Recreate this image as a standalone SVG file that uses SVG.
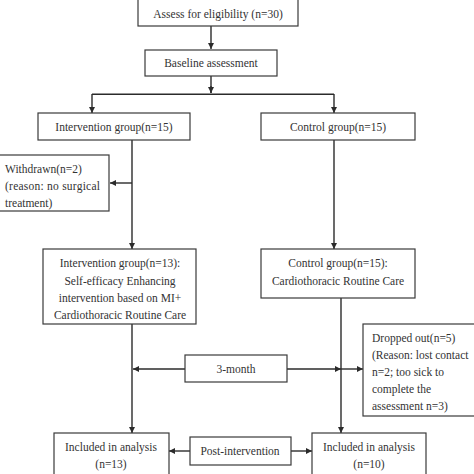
<svg xmlns="http://www.w3.org/2000/svg" width="474" height="474" viewBox="0 0 474 474">
<defs>
<marker id="ah" viewBox="0 0 10 10" refX="10" refY="5" markerWidth="6" markerHeight="6" markerUnits="userSpaceOnUse" orient="auto">
<path d="M0,0 L10,5 L0,10 z" fill="#2b2b2b"/>
</marker>
<style>
.box{fill:#fff;stroke:#3a3a3a;stroke-width:1.2}
text{font-family:"Liberation Serif","Times New Roman",serif;font-size:11.5px;fill:#333}
.c{text-anchor:middle}
.ln{fill:none;stroke:#2b2b2b;stroke-width:1.4}
</style>
</defs>
<rect width="474" height="474" fill="#fff"/>
<g id="connectors">
<path class="ln" d="M211,26 V49" marker-end="url(#ah)"/>
<path class="ln" d="M211,76 V93"/>
<path class="ln" d="M211,86 V93" marker-end="url(#ah)"/>
<path class="ln" d="M92,94.3 H334"/>
<path class="ln" d="M92,94 V113" marker-end="url(#ah)"/>
<path class="ln" d="M334,94 V113" marker-end="url(#ah)"/>
<path class="ln" d="M132,140 V249" marker-end="url(#ah)"/>
<path class="ln" d="M132,183 H110" marker-end="url(#ah)"/>
<path class="ln" d="M334,140 V249" marker-end="url(#ah)"/>
<path class="ln" d="M132,324 V433" marker-end="url(#ah)"/>
<path class="ln" d="M341,298 V433" marker-end="url(#ah)"/>
<path class="ln" d="M185,369 H133" marker-end="url(#ah)"/>
<path class="ln" d="M287,369 H341" marker-end="url(#ah)"/>
<path class="ln" d="M341,369 H363" marker-end="url(#ah)"/>
<path class="ln" d="M190,451 H169" marker-end="url(#ah)"/>
<path class="ln" d="M291,451 H312" marker-end="url(#ah)"/>
</g>
<g id="assess"><rect class="box" x="138" y="-2" width="160" height="28"/><text class="c" x="218" y="18">Assess for eligibility (n=30)</text></g>
<g id="baseline"><rect class="box" x="145" y="50" width="132" height="26"/><text class="c" x="211" y="67">Baseline assessment</text></g>
<g id="intervention15"><rect class="box" x="38" y="113" width="152" height="27"/><text class="c" x="114" y="131">Intervention group(n=15)</text></g>
<g id="control15"><rect class="box" x="261" y="113" width="154" height="27"/><text class="c" x="338" y="131">Control group(n=15)</text></g>
<g id="withdrawn"><rect class="box" x="-2" y="155" width="111" height="56"/>
<text x="5" y="173">Withdrawn(n=2)</text>
<text x="5" y="190" textLength="95" lengthAdjust="spacing">(reason: no surgical</text>
<text x="5" y="207">treatment)</text></g>
<g id="intervention13"><rect class="box" x="43" y="249" width="153" height="75"/>
<text class="c" x="120" y="267">Intervention group(n=13):</text>
<text class="c" x="120" y="285">Self-efficacy Enhancing</text>
<text class="c" x="120" y="302">intervention based on MI+</text>
<text class="c" x="120" y="319">Cardiothoracic Routine Care</text></g>
<g id="controlcare"><rect class="box" x="261" y="249" width="154" height="49"/>
<text class="c" x="338" y="267">Control group(n=15):</text>
<text class="c" x="338" y="285">Cardiothoracic Routine Care</text></g>
<g id="threemonth"><rect class="box" x="185" y="355" width="102" height="27"/><text class="c" x="236" y="373">3-month</text></g>
<g id="dropped"><rect class="box" x="363" y="324" width="113" height="92"/>
<text x="372" y="342">Dropped out(n=5)</text>
<text x="372" y="359">(Reason: lost contact</text>
<text x="372" y="376">n=2; too sick to</text>
<text x="372" y="393">complete the</text>
<text x="372" y="410">assessment n=3)</text></g>
<g id="included13"><rect class="box" x="54" y="433" width="115" height="45"/>
<text class="c" x="111" y="451">Included in analysis</text>
<text class="c" x="111" y="468">(n=13)</text></g>
<g id="post"><rect class="box" x="190" y="437" width="101" height="28"/><text class="c" x="240" y="455">Post-intervention</text></g>
<g id="included10"><rect class="box" x="312" y="433" width="114" height="45"/>
<text class="c" x="369" y="451">Included in analysis</text>
<text class="c" x="369" y="468">(n=10)</text></g>
</svg>
